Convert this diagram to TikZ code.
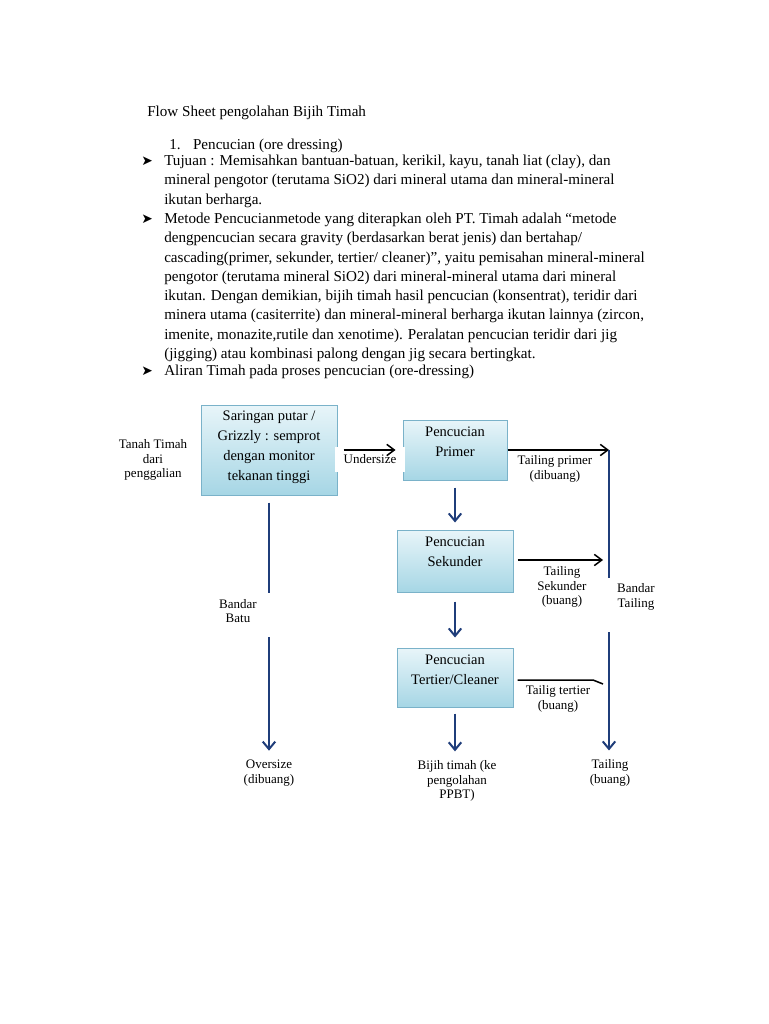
\documentclass[tikz,border=0pt]{standalone}
\usepackage{fontspec}
\setmainfont{Liberation Serif}
\newfontfamily\symfont{DejaVu Sans}
\usetikzlibrary{arrows.meta}

\definecolor{navy}{RGB}{31,61,122}
\definecolor{boxtop}{RGB}{232,245,249}
\definecolor{boxbot}{RGB}{166,214,229}
\definecolor{boxline}{RGB}{122,178,201}

\tikzset{
  body/.style={anchor=north west, inner sep=0pt, align=left, font=\fontsize{12.1}{15.4}\selectfont},
  bul/.style={anchor=west, inner sep=0pt, font=\symfont\fontsize{11}{11}\selectfont},
  proc/.style={draw=boxline, line width=0.8pt, top color=boxtop, bottom color=boxbot},
  boxtext/.style={align=center, font=\fontsize{11.6}{16}\selectfont},
  lbl/.style={align=center, inner sep=1pt, font=\fontsize{10.4}{11.4}\selectfont},
  navyline/.style={draw=navy, line width=1.6pt},
  navyarrow/.style={navyline, -{Straight Barb[length=6pt,width=10pt]}},
  blkline/.style={draw=black, line width=1.2pt},
  blkarrow/.style={blkline, -{Straight Barb[length=6pt,width=9pt]}},
}

\begin{document}
\begin{tikzpicture}[x=0.8pt, y=-0.8pt]
  \useasboundingbox[fill=white] (0,0) rectangle (768,1024);

  % text above the flow sheet
  \node[body] (title) at (147,106) {Flow Sheet pengolahan Bijih Timah};
  \node[body] (num)   at (169,139) {1.\hspace{10pt}Pencucian (ore dressing)};
  \node[bul]  (b1)    at (141,161) {➤};
  \node[body] (tujuan) at (164,155)
    {Tujuan : Memisahkan bantuan-batuan, kerikil, kayu, tanah liat (clay), dan\\
     mineral pengotor (terutama SiO2) dari mineral utama dan mineral-mineral\\
     ikutan berharga.};
  \node[bul]  (b2)    at (141,219) {➤};
  \node[body] (metode) at (164,213)
    {Metode Pencucianmetode yang diterapkan oleh PT. Timah adalah “metode\\
     dengpencucian secara gravity (berdasarkan berat jenis) dan bertahap/\\
     cascading(primer, sekunder, tertier/ cleaner)”, yaitu pemisahan mineral-mineral\\
     pengotor (terutama mineral SiO2) dari mineral-mineral utama dari mineral\\
     ikutan. Dengan demikian, bijih timah hasil pencucian (konsentrat), teridir dari\\
     minera utama (casiterrite) dan mineral-mineral berharga ikutan lainnya (zircon,\\
     imenite, monazite,rutile dan xenotime). Peralatan pencucian teridir dari jig\\
     (jigging) atau kombinasi palong dengan jig secara bertingkat.};
  \node[bul]  (b3)    at (141,371) {➤};
  \node[body] (aliran) at (164,365) {Aliran Timah pada proses pencucian (ore-dressing)};

  % process boxes
  \node[proc, minimum width=108.8pt, minimum height=72pt,
        label={[boxtext, yshift=2.4pt]center:Saringan putar /\\Grizzly : semprot\\dengan monitor\\tekanan tinggi}]
        (sar) at (269,450) {};
  \node[proc, minimum width=83.2pt, minimum height=48pt,
        label={[boxtext, yshift=6.4pt]center:Pencucian\\Primer}]
        (pri) at (455,450) {};
  \node[proc, minimum width=92.8pt, minimum height=49.6pt,
        label={[boxtext, yshift=7.6pt]center:Pencucian\\Sekunder}]
        (sek) at (455,561) {};
  \node[proc, minimum width=92.8pt, minimum height=47.2pt,
        label={[boxtext, yshift=6.4pt]center:Pencucian\\Tertier/Cleaner}]
        (ter) at (455,677.5) {};

  % labels
  \node[lbl] (tanah)  at (153,460) {Tanah Timah\\dari\\penggalian};
  \node[lbl, fill=white, minimum width=56pt, minimum height=20pt] (under) at (370,459.5) {\raisebox{-3.5pt}{Undersize}};
  \node[lbl] (tprim)  at (555,469) {Tailing primer\\(dibuang)};
  \node[lbl] (tsek)   at (562,587) {Tailing\\Sekunder\\(buang)};
  \node[lbl] (tter)   at (558,699) {Tailig tertier\\(buang)};
  \node[lbl] (btail)  at (636,597) {Bandar\\Tailing};
  \node[lbl] (bbatu)  at (238,611) {Bandar\\Batu};
  \node[lbl] (over)   at (269,773) {Oversize\\(dibuang)};
  \node[lbl] (bijih)  at (457,781) {Bijih timah (ke\\pengolahan\\PPBT)};
  \node[lbl] (tail)   at (610,773) {Tailing\\(buang)};

  % free ends
  \coordinate (tp)  at (609,450);
  \coordinate (tl1) at (609,578);
  \coordinate (tl2) at (609,632);
  \coordinate (ts)  at (603,560);
  \coordinate (tt1) at (593,680);
  \coordinate (tt2) at (603,684);
  \coordinate (bb1) at (269,593);
  \coordinate (bb2) at (269,637);

  % flow
  \draw[blkarrow, shorten <=4.8pt, shorten >=5.6pt] (sar.east) -- (pri.west);
  \draw[blkarrow] (pri.east) -- (tp);
  \draw[blkarrow, shorten <=3.2pt] (sek.east |- ts) -- (ts);
  \draw[blkline, shorten <=3.2pt] (ter.east |- tt1) -- (tt1) -- (tt2);

  \draw[navyarrow, shorten <=5.6pt, shorten >=5.6pt] (pri.south) -- (sek.north);
  \draw[navyarrow, shorten <=7.2pt, shorten >=8pt] (sek.south) -- (ter.north);
  \draw[navyarrow, shorten <=4.8pt, shorten >=6.4pt] (ter.south) -- (ter.south |- bijih.north);

  \draw[navyline] (tp) -- (tl1);
  \draw[navyarrow, shorten >=6.4pt] (tl2) -- (tl2 |- tail.north);
  \draw[navyline, shorten <=5.6pt] (sar.south) -- (bb1);
  \draw[navyarrow, shorten >=6.4pt] (bb2) -- (over.north);
\end{tikzpicture}
\end{document}
